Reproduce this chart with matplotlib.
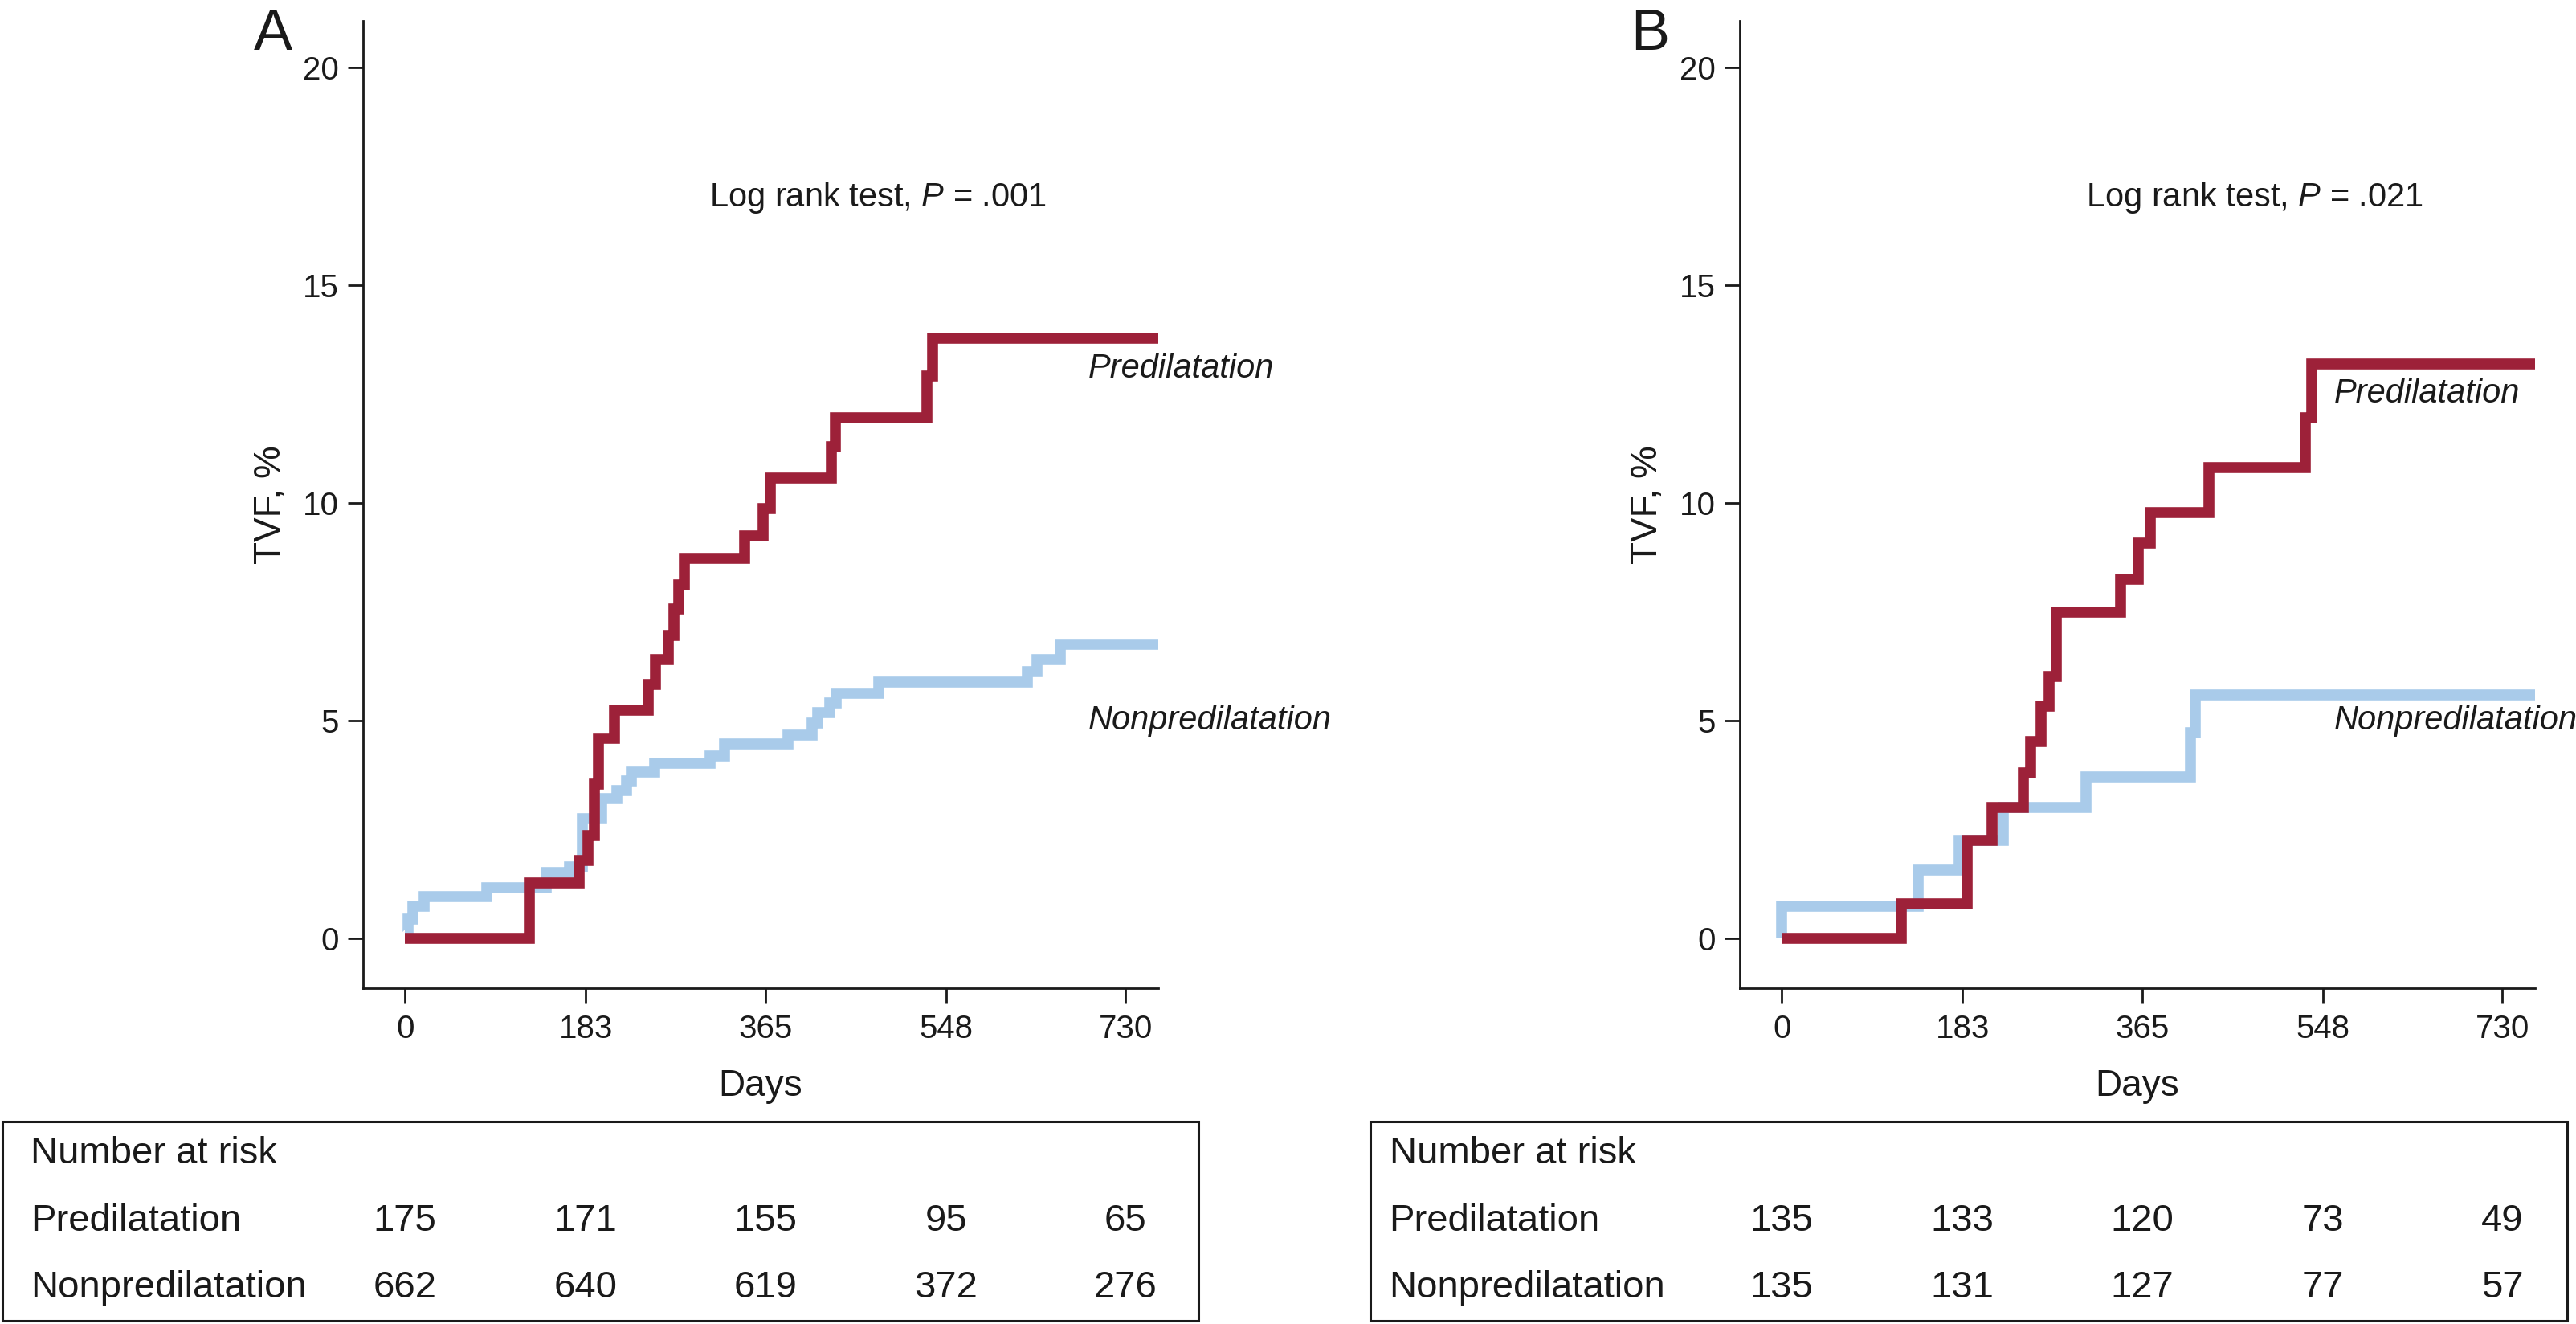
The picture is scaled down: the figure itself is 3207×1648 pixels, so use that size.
import numpy as np
import matplotlib
matplotlib.use("Agg")
import matplotlib.pyplot as plt
import matplotlib.transforms as mtransforms
from matplotlib.patches import Rectangle

plt.rcParams['font.family'] = ['Liberation Sans', 'DejaVu Sans']
plt.rcParams['mathtext.fontset'] = 'custom'
plt.rcParams['mathtext.rm'] = 'Liberation Sans'
plt.rcParams['mathtext.it'] = 'Liberation Sans:italic'

# cumulative TVF (%), step curves
red_A_days = [0, 126, 176, 185, 192, 196, 212, 246, 254, 267, 272, 277, 283, 344, 363, 370, 432, 436, 529, 534]
red_A_vals = [0, 1.27, 1.79, 2.37, 3.55, 4.60, 5.24, 5.84, 6.41, 6.96, 7.56, 8.12, 8.72, 9.25, 9.87, 10.57, 11.29, 11.96, 12.91, 13.79]
blue_A_days = [0, 3, 8, 19, 83, 143, 167, 180, 199, 215, 224, 229, 253, 309, 324, 388, 412, 418, 430, 437, 480, 630, 640, 664]
blue_A_vals = [0.15, 0.45, 0.75, 0.97, 1.17, 1.52, 1.65, 2.76, 3.22, 3.39, 3.62, 3.83, 4.02, 4.19, 4.46, 4.68, 4.95, 5.18, 5.40, 5.63, 5.88, 6.13, 6.41, 6.75]

red_B_days = [0, 121, 188, 213, 245, 252, 263, 271, 278, 343, 361, 373, 433, 530, 537]
red_B_vals = [0, 0.80, 2.25, 3.01, 3.80, 4.52, 5.33, 6.01, 7.49, 8.25, 9.08, 9.78, 10.81, 11.96, 13.2]
blue_B_days = [0, 0, 138, 180, 224, 308, 414, 419]
blue_B_vals = [0, 0.74, 1.57, 2.25, 3.01, 3.71, 4.73, 5.60]

end_day = 763

xticks = [0, 183, 365, 548, 730]
yticks = [0, 5, 10, 15, 20]

group_names = ['Predilatation', 'Nonpredilatation']
risk_A = [[175, 171, 155, 95, 65], [662, 640, 619, 372, 276]]
risk_B = [[135, 133, 120, 73, 49], [135, 131, 127, 77, 57]]

p_text = ['Log rank test, $P$ = .001', 'Log rank test, $P$ = .021']

RED = '#9D2139'
BLUE = '#A9CBEA'

fig = plt.figure(figsize=(32.07, 16.48), dpi=100)

def step_line(ax, days, vals, color, z):
    x = np.append(days, end_day)
    y = np.append(vals, vals[-1])
    ax.step(x, y, where='post', color=color, lw=9.8, zorder=z,
            solid_joinstyle='miter', solid_capstyle='butt')

def panel(left, letter, red, blue, ptxt, lab_x, lab_y, risk, box_x, txt_x):
    ax = fig.add_axes([left, 0.25364, 0.30870, 0.73058])
    step_line(ax, blue[0], blue[1], BLUE, 2)
    step_line(ax, red[0], red[1], RED, 3)
    ax.set_xlim(-42.5, end_day)
    ax.set_ylim(-1.14, 21.07)
    for s in ['top', 'right']:
        ax.spines[s].set_visible(False)
    for s in ['left', 'bottom']:
        ax.spines[s].set_linewidth(2.0)
        ax.spines[s].set_color('#1a1a1a')
    ax.set_xticks(xticks)
    ax.set_yticks(yticks)
    ax.tick_params(axis='x', length=13.7, width=2.0, pad=9, labelsize=29, colors='#1a1a1a')
    ax.tick_params(axis='y', length=13.7, width=2.0, pad=8, labelsize=29, colors='#1a1a1a')
    ax.set_xlabel('Days', fontsize=33, color='#1a1a1a')
    ax.set_ylabel('TVF, %', fontsize=33, color='#1a1a1a')
    ax.xaxis.set_label_coords(0.5, -0.083)
    ax.yaxis.set_label_coords(-0.094, 0.5)

    ax.text(650, 16.8, ptxt, fontsize=30, ha='right', va='baseline', color='#1a1a1a')
    ax.text(lab_x, lab_y[0], group_names[0], fontsize=30, style='italic',
            ha='left', va='baseline', color='#1a1a1a', clip_on=False)
    ax.text(lab_x, lab_y[1], group_names[1], fontsize=30, style='italic',
            ha='left', va='baseline', color='#1a1a1a', clip_on=False)

    fig.text(left - 88 / 3207, 1 - 10 / 1648, letter, fontsize=52,
             ha='right', va='top', color='#1a1a1a')

    # number at risk box
    fig.patches.append(Rectangle((box_x, 0.0025), 0.4645, 0.1505, fill=False,
                                 lw=2.2, edgecolor='#1a1a1a',
                                 transform=fig.transFigure, figure=fig))
    fig.text(txt_x, 0.1212, 'Number at risk', fontsize=34, va='baseline', color='#1a1a1a')
    trans = mtransforms.blended_transform_factory(ax.transData, fig.transFigure)
    for row, yy in zip(range(2), [0.0706, 0.0200]):
        fig.text(txt_x, yy, group_names[row], fontsize=34, va='baseline', color='#1a1a1a')
        for d, n in zip(xticks, risk[row]):
            ax.text(d, yy, str(n), transform=trans, fontsize=34, ha='center',
                    va='baseline', color='#1a1a1a', clip_on=False)
    return ax

panel(0.14094, 'A', (red_A_days, red_A_vals), (blue_A_days, blue_A_vals), p_text[0],
      692, (12.88, 4.8), risk_A, 0.0008, 0.01185)
panel(0.67540, 'B', (red_B_days, red_B_vals), (blue_B_days, blue_B_vals), p_text[1],
      559, (12.3, 4.8), risk_B, 0.53196, 0.5393)

fig.savefig('out.png', dpi=100, facecolor='white')
